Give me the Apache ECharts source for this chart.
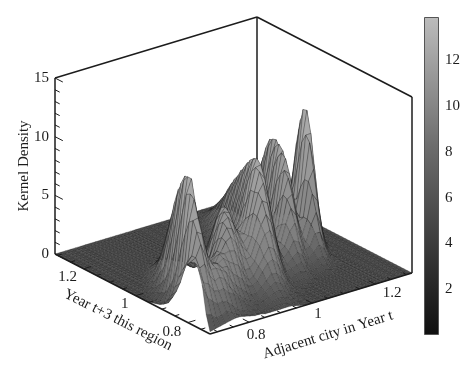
<!DOCTYPE html>
<html>
<head>
<meta charset="utf-8">
<script src="https://cdn.jsdelivr.net/npm/echarts@6/dist/echarts.min.js"></script>
<style>html,body{margin:0;background:#fff}#chart{width:474px;height:374px}</style>
</head>
<body>
<div id="chart"></div>
<script>
// kernel density, one row per y step (front to back), short rows end in zeros
const densityRows = [
[.2,.3,.4,.5,.6,.7,.7,.6,.5,.4,.4,.3,.3,.3,.3,.3,.3,.2,.1],
[1.5,1.3,.9,1,1.2,1,.7,.5,.4,.3,.2,.2,.2,.3,.4,.4,.3,.2,.2,.1],
[3.8,2.6,2.2,1.8,1.9,1.7,1.3,.8,.6,.4,.4,.3,.2,.4,.6,.7,.7,.5,.3,.1],
[5,3.7,3.5,2.8,2.6,2.7,2.2,2,1.5,1.1,.6,.5,.4,.6,.8,1,1.1,.9,.5,.3,.1],
[5.4,4.8,5,3.9,3.3,3.5,3.2,2.4,1.9,1.4,1,.7,.5,.5,1,1.4,1.6,1.4,1,.5,.2,.1],
[5.3,5.5,6.5,5.3,4.1,4.1,3.8,3.5,2.7,2.1,1.7,1.3,.9,.9,1.3,1.7,2.2,2.1,1.6,1,.4,.2,.1],
[4.9,5.5,7.4,7.1,5.2,4.3,4.2,3.7,3.7,3,2.6,2.2,1.5,1.4,1.6,2.3,2.9,3.1,2.6,1.7,.9,.3,.1,.2,.1],
[4.3,4.9,8.2,8.3,6.5,4.5,4.1,3.9,4.2,3.8,3.5,3.2,2.4,1.7,1.9,2.6,3.3,4,3.7,2.7,1.5,.6,.3,.3,.4,.3,.1],
[3.5,3.9,7.9,9.7,7.4,5.1,3.9,3.6,4.4,4.3,4.4,4.3,3.4,2.4,2.4,2.9,4,4.9,5.1,4.1,2.5,1.2,.5,.7,.8,.7,.4,.1,.2,.3,.2],
[2.5,2.7,6.7,10,9.1,6.2,3.6,3.2,4,4.2,5,5.3,4.7,3.6,3,3.1,4.3,5.5,6.3,5.5,3.8,2,.9,1,1.2,1.3,.8,.3,.4,.6,.5,.1],
[1.6,1.8,5.4,9.8,11,7.4,4.4,3.3,3.5,4.2,5.2,5.9,5.7,4.8,3.9,3.4,4.5,6.1,7.3,7,5.3,3.2,1.7,1.2,1.6,2,1.6,.7,.6,.9,1,.6,.2,.1],
[1,1.1,3.7,8.1,11,9.3,5,3.2,3,3.6,4.9,6.2,6.5,5.9,4.8,3.9,4.4,6.2,7.8,8.5,7,4.7,2.5,1.6,2,2.8,2.6,1.5,.9,1.3,1.8,1.4,.5,.1],
[.5,.5,2.4,6.3,10.5,10.6,6.7,3.3,2.6,3.1,4.3,5.9,6.8,6.6,5.3,4.5,4.4,5.8,7.7,9.3,8.6,6.2,3.5,2,2.3,3.4,4,2.8,1.5,1.6,2.6,2.6,1.3,.3,.1],
[.3,.3,1.6,4.5,8.6,10.6,8.3,4.1,2.5,2.4,3.2,5,6.4,6.9,5.9,4.8,4.4,5.4,7.7,9.5,9.6,7.6,4.8,2.8,2.4,3.9,5.1,4.4,2.5,1.8,3.2,4.1,2.7,.9,.1],
[.2,.3,.9,3.1,6.7,9.8,9.2,5.7,2.9,2,2.7,4.2,5.8,6.7,6.2,4.8,4.3,4.8,6.6,9,10,8.8,6.1,3.5,2.5,3.7,5.7,6,3.8,2.3,3.5,5.5,4.8,2.1,.5,.1],
[.1,.2,.7,2,5.1,8.5,9.4,7,4,2.2,2.1,3.2,4.6,5.8,5.9,4.9,4.2,4.1,5.8,8,9.7,9.4,7.1,4.3,2.7,3.4,5.9,7.2,5.6,3.2,3.5,6.4,7.3,4.1,1.2,.2],
[0,.1,.5,1.4,3.6,6.6,8.8,7.8,4.9,2.3,1.9,2.3,3.4,4.7,5.2,4.7,3.9,3.6,4.6,6.8,8.8,9.5,8,5.3,3.1,2.9,5.2,7.7,7.3,4.2,3.3,6.4,9.4,7,2.8,.6,.1],
[0,.1,.3,.9,2.3,5,7.5,7.9,5.7,3.1,2,1.8,2.5,3.5,4.2,4.1,3.3,3.2,3.7,5.6,7.7,9.2,8.6,6.2,3.7,2.6,4.2,7.2,8.4,5.9,3.7,5.6,9.9,9.9,5,1.2,.2],
[0,0,.2,.5,1.7,3.7,5.8,7.1,6.1,4,2.2,1.4,1.8,2.4,3.1,3.3,2.8,2.6,3,4.4,6.5,8.5,8.7,6.9,4.4,2.7,3.4,6.4,8.7,7.5,4.5,4.4,9.1,11.7,7.8,2.4,.3],
[0,0,0,.3,.9,2.4,4.3,6,5.9,4.1,2.2,1.4,1.3,1.5,2.1,2.5,2.3,1.8,2.2,3.3,5.4,7.5,8.5,7.5,5.2,2.8,2.7,5,8.2,8.6,5.6,4,7.1,11.6,10.1,4.4,.8,.1],
[0,0,0,.2,.5,1.5,2.9,4.5,5.2,4.2,2.6,1.3,.7,.7,1.3,1.6,1.7,1.4,1.6,2.4,4.2,6.3,7.9,7.7,5.8,3.5,2.5,3.8,7.2,9,7,4.1,5.2,9.7,11.2,6.3,1.8,.2],
[0,0,0,0,.3,.8,1.9,3.1,3.9,3.6,2.5,1.5,.7,.4,.8,1.1,1.2,1.1,1.2,1.6,3,5.1,7,7.5,6.3,4.2,2.6,2.9,5.6,8.6,8.2,4.7,3.7,7.2,10.2,7.7,2.9,.5,.1],
[0,0,0,0,0,.3,1,1.9,2.6,2.7,2.2,1.5,.8,.3,.3,.5,.7,.6,.6,1,2,4,6,7.2,6.6,4.8,2.7,2.4,4.4,7.6,8.9,6.2,3.6,4.6,8.1,8.1,4,.9,.1],
[0,0,0,0,0,.2,.6,1.1,1.7,2,1.8,1.3,.8,.3,.1,.1,.3,.4,.3,.5,1.3,2.9,4.9,6.4,6.6,5.2,3.3,2.2,3.2,6.1,8.8,7.6,3.9,3.1,5.2,6.9,4.6,1.4,.2],
[0,0,0,0,0,0,.3,.6,1.1,1.4,1.5,1.2,.7,.4,.1,0,.1,.2,.1,.3,.9,2,3.8,5.5,6.3,5.5,3.8,2.3,2.5,4.9,8,8.4,5.3,2.8,3.4,5,4.4,1.9,.4],
[0,0,0,0,0,0,0,.3,.6,.9,1,.9,.6,.3,.1,0,0,0,0,.2,.5,1.4,2.9,4.6,5.8,5.6,4.2,2.6,2,3.4,6.4,8.3,6.4,3.3,2.1,3,3.4,1.9,.6,.1],
[0,0,0,0,0,0,0,0,.2,.4,.6,.5,.4,.1,0,0,0,0,0,0,.3,.9,2,3.6,5,5.3,4.5,3,1.9,2.4,4.7,7.4,7,4,1.9,1.8,2.3,1.7,.7,.1],
[0,0,0,0,0,0,0,0,0,.2,.3,.3,.3,.1,0,0,0,0,0,0,.2,.6,1.4,2.8,4.2,5,4.6,3.4,2.1,1.9,3.4,6,6.9,4.8,2,1.3,1.3,1.3,.6,.1],
[0,0,0,0,0,0,0,0,0,0,.1,.2,.1,0,0,0,0,0,0,0,0,.3,.9,1.9,3.3,4.3,4.4,3.5,2.2,1.2,2.2,4.3,6.1,5.3,2.7,1,.8,.8,.4,.1],
[0,0,0,0,0,0,0,0,0,0,0,.1,0,0,0,0,0,0,0,0,0,.1,.5,1.3,2.4,3.5,4,3.5,2.4,1.3,1.5,2.8,4.9,5.2,3.2,1.2,.4,.5,.3,.1],
[0,0,0,0,0,0,0,0,0,0,0,0,0,0,0,0,0,0,0,0,0,0,.3,.8,1.7,2.7,3.4,3.3,2.5,1.5,.8,2,3.6,4.6,3.6,1.7,.5,.2,.2],
[0,0,0,0,0,0,0,0,0,0,0,0,0,0,0,0,0,0,0,0,0,0,0,.5,1.1,2,2.8,3,2.5,1.7,.8,1.2,2.3,3.6,3.5,2,.7,.1],
[0,0,0,0,0,0,0,0,0,0,0,0,0,0,0,0,0,0,0,0,0,0,0,.2,.7,1.4,2.2,2.6,2.4,1.7,1,.5,1.5,2.6,3,2.1,.9,.2],
[0,0,0,0,0,0,0,0,0,0,0,0,0,0,0,0,0,0,0,0,0,0,0,0,.4,.9,1.6,2.1,2.2,1.7,1.1,.5,.9,1.6,2.3,2,1,.3],
[0,0,0,0,0,0,0,0,0,0,0,0,0,0,0,0,0,0,0,0,0,0,0,0,.2,.6,1.1,1.6,1.8,1.6,1.1,.6,.5,.9,1.6,1.6,1,.3],
[0,0,0,0,0,0,0,0,0,0,0,0,0,0,0,0,0,0,0,0,0,0,0,0,0,.3,.6,1,1.4,1.3,1,.6,.3,.3,.9,1.2,.9,.4,.1],
[0,0,0,0,0,0,0,0,0,0,0,0,0,0,0,0,0,0,0,0,0,0,0,0,0,0,.3,.6,.9,1,.8,.5,.3,.1,.3,.7,.7,.3,.1],
[0,0,0,0,0,0,0,0,0,0,0,0,0,0,0,0,0,0,0,0,0,0,0,0,0,0,0,.2,.5,.6,.5,.3,.1,0,.1,.4,.5,.3,.1],
[0,0,0,0,0,0,0,0,0,0,0,0,0,0,0,0,0,0,0,0,0,0,0,0,0,0,0,0,.2,.3,.3,.1,0,0,0,.2,.3,.2],
[0,0,0,0,0,0,0,0,0,0,0,0,0,0,0,0,0,0,0,0,0,0,0,0,0,0,0,0,0,.1,.1,0,0,0,0,0,.1],
[]
];
const gridSize = 41;

const xRange = [0.676, 1.317];
const yRange = [0.715, 1.31];
const zRange = [0, 15];
const xTicks = [0.8, 1, 1.2];
const yTicks = [0.8, 1, 1.2];
const zTicks = [0, 5, 10, 15];
const colorTicks = [2, 4, 6, 8, 10, 12];
const colorMax = 13.9;

// where the box sits on the page: front corner and the three edge vectors
const origin = [210, 334];
const xEdge = [202, -61];
const yEdge = [-155, -80];
const zEdge = [0, -176];

const serif = '"Liberation Serif", serif';
const inkColor = "#1c1c1c";

function project(x, y, z) {
    const u = (x - xRange[0]) / (xRange[1] - xRange[0]);
    const v = (y - yRange[0]) / (yRange[1] - yRange[0]);
    const w = (z - zRange[0]) / (zRange[1] - zRange[0]);
    return [
        origin[0] + u * xEdge[0] + v * yEdge[0] + w * zEdge[0],
        origin[1] + u * xEdge[1] + v * yEdge[1] + w * zEdge[1]
    ];
}

function gridX(c) {
    return xRange[0] + (c * (xRange[1] - xRange[0])) / (gridSize - 1);
}
function gridY(r) {
    return yRange[0] + (r * (yRange[1] - yRange[0])) / (gridSize - 1);
}
function density(r, c) {
    return densityRows[r][c] || 0;
}
function meshPoint(api, r, c) {
    return api.coord(project(gridX(c), gridY(r), density(r, c)));
}
function shade(z) {
    const g = Math.min(190, Math.round(72 + Math.min(z, 3) * 18 + Math.max(z - 3, 0) * 6));
    return "rgb(" + g + "," + g + "," + g + ")";
}

// far cells first so nearer ones paint over them
const cells = [];
for (let r = gridSize - 2; r >= 0; r--) {
    for (let c = gridSize - 2; c >= 0; c--) {
        cells.push([r, c]);
    }
}

const xMin = xRange[0], xMax = xRange[1], yMin = yRange[0], yMax = yRange[1], zTop = zRange[1];
const backLines = [
    [[xMin, yMax, 0], [xMin, yMax, zTop], 1.5],
    [[xMin, yMax, zTop], [xMax, yMax, zTop], 1.5],
    [[xMax, yMax, 0], [xMax, yMax, zTop], 1.5],
    [[xMax, yMax, zTop], [xMax, yMin, zTop], 1.5],
    [[xMax, yMin, 0], [xMax, yMin, zTop], 1.5]
];
const frontLines = [
    [[xMin, yMin, 0], [xMax, yMin, 0], 1.6],
    [[xMin, yMin, 0], [xMin, yMax, 0], 1.6]
];
for (let t = 0.7; t < 1.31; t += 0.05) {
    const major = Math.abs((t * 5) - Math.round(t * 5)) < 0.01;
    const len = major ? 0.024 : 0.014;
    if (t > xMin) {
        frontLines.push([[t, yMin, 0], [t, yMin + len, 0], 1]);
    }
    if (t > yMin) {
        frontLines.push([[xMin, t, 0], [xMin + len, t, 0], 1]);
    }
}
for (let z = 0; z <= zTop; z++) {
    const len = z % 5 === 0 ? 0.03 : 0.018;
    frontLines.push([[xMin, yMax, z], [xMin, yMax - len, z], 1]);
}

const xLabelShift = [[7, 13], [6, 11], [17, 9]];
const yLabelShift = [[-16, 9], [-11, 8], [-16, 8]];
const texts = [];
xTicks.forEach((t, i) => {
    const p = project(t, yMin, 0);
    texts.push([String(t), p[0] + xLabelShift[i][0], p[1] + xLabelShift[i][1], 0]);
});
yTicks.forEach((t, i) => {
    const p = project(xMin, t, 0);
    texts.push([String(t), p[0] + yLabelShift[i][0], p[1] + yLabelShift[i][1], 0]);
});
zTicks.forEach((t) => {
    const p = project(xMin, yMax, t);
    texts.push([String(t), p[0] - 6, p[1], 0, "right"]);
});
texts.push(["Kernel Density", 24, 166, Math.PI / 2]);
texts.push(["Year t+3 this region", 118, 320, -0.468]);
texts.push(["Adjacent city in Year t", 328, 335, 0.297]);

function renderLine(params, api) {
    const item = this.lines[params.dataIndex];
    const a = api.coord(project(item[0][0], item[0][1], item[0][2]));
    const b = api.coord(project(item[1][0], item[1][1], item[1][2]));
    return {
        type: "line",
        shape: { x1: a[0], y1: a[1], x2: b[0], y2: b[1] },
        style: { stroke: inkColor, lineWidth: item[2] }
    };
}

const chart = echarts.init(document.getElementById("chart"), null, { renderer: "canvas" });
chart.setOption({
    animation: false,
    grid: [
        { left: 0, top: 0, width: 474, height: 374 },
        { left: 424, top: 17, width: 15, height: 318 }
    ],
    xAxis: [
        { type: "value", min: 0, max: 474, show: false, gridIndex: 0 },
        { type: "category", data: ["density"], show: false, gridIndex: 1 }
    ],
    yAxis: [
        { type: "value", min: 0, max: 374, inverse: true, show: false, gridIndex: 0 },
        {
            type: "value",
            min: 0,
            max: colorMax,
            position: "right",
            gridIndex: 1,
            splitLine: { show: false },
            axisLine: { show: false },
            axisTick: { customValues: colorTicks, length: 3, lineStyle: { color: "#444" } },
            axisLabel: {
                customValues: colorTicks,
                color: inkColor,
                fontFamily: serif,
                fontSize: 15,
                margin: 6
            }
        }
    ],
    series: [
        {
            type: "custom",
            coordinateSystem: "cartesian2d",
            silent: true,
            clip: false,
            z: 1,
            data: backLines.map((l, i) => [i, 0]),
            renderItem: renderLine.bind({ lines: backLines })
        },
        {
            type: "custom",
            coordinateSystem: "cartesian2d",
            silent: true,
            clip: false,
            progressive: 0,
            z: 2,
            data: cells,
            renderItem(params, api) {
                const r = cells[params.dataIndex][0];
                const c = cells[params.dataIndex][1];
                const mean = (density(r, c) + density(r, c + 1) + density(r + 1, c) + density(r + 1, c + 1)) / 4;
                return {
                    type: "polygon",
                    shape: {
                        points: [
                            meshPoint(api, r, c),
                            meshPoint(api, r, c + 1),
                            meshPoint(api, r + 1, c + 1),
                            meshPoint(api, r + 1, c)
                        ]
                    },
                    style: { fill: shade(mean), stroke: "rgba(20,20,20,0.5)", lineWidth: 0.5 }
                };
            }
        },
        {
            type: "custom",
            coordinateSystem: "cartesian2d",
            silent: true,
            clip: false,
            z: 3,
            data: frontLines.map((l, i) => [i, 0]),
            renderItem: renderLine.bind({ lines: frontLines })
        },
        {
            type: "custom",
            coordinateSystem: "cartesian2d",
            silent: true,
            clip: false,
            z: 4,
            data: texts.map((t, i) => [i, 0]),
            renderItem(params, api) {
                const t = texts[params.dataIndex];
                const p = api.coord([t[1], t[2]]);
                return {
                    type: "text",
                    x: p[0],
                    y: p[1],
                    rotation: t[3],
                    style: {
                        text: t[0],
                        fill: inkColor,
                        font: "15px " + serif,
                        textAlign: t[4] || "center",
                        textVerticalAlign: "middle"
                    }
                };
            }
        },
        {
            type: "bar",
            xAxisIndex: 1,
            yAxisIndex: 1,
            barWidth: "100%",
            silent: true,
            data: [colorMax],
            itemStyle: {
                borderColor: "#555",
                borderWidth: 1,
                color: new echarts.graphic.LinearGradient(0, 0, 0, 1, [
                    { offset: 0, color: "#bcbcbc" },
                    { offset: 0.4, color: "#6e6e6e" },
                    { offset: 0.7, color: "#3e3e3e" },
                    { offset: 1, color: "#0f0f0f" }
                ])
            }
        }
    ]
});
</script>
</body>
</html>
